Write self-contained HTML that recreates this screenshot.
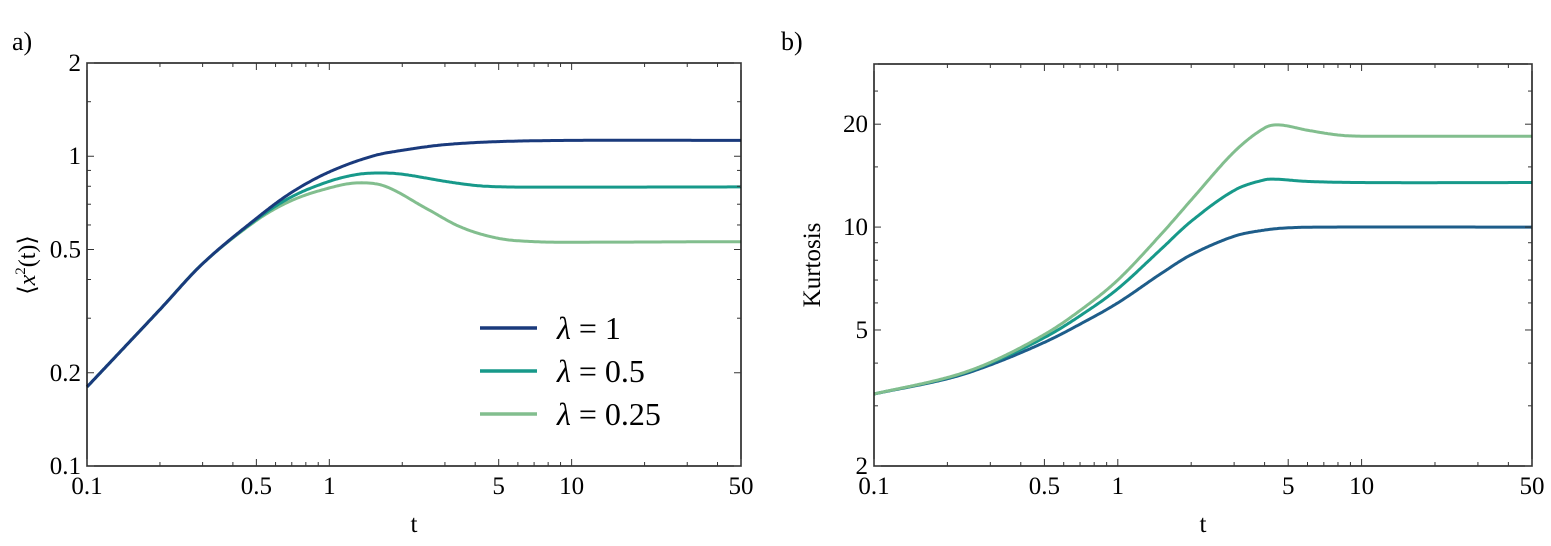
<!DOCTYPE html>
<html><head><meta charset="utf-8">
<style>
html,body{margin:0;padding:0;background:#fff;}
svg{display:block;}
text{font-family:"Liberation Serif","DejaVu Serif",serif;}
</style></head>
<body>
<svg id="s" width="1551" height="546" viewBox="0 0 1551 546" xmlns="http://www.w3.org/2000/svg" font-family="Liberation Serif, serif"></svg>
<script>
const S=document.getElementById('s');let h='';
const FF='font-family="Liberation Serif, DejaVu Serif, serif"';
function L10(v){return Math.log10(v);}
function interp(pts,lt){
  const P=pts.map(p=>[L10(p[0]),L10(p[1])]);
  let i=0;while(i<P.length-2&&lt>P[i+1][0])i++;
  const p0=P[Math.max(i-1,0)],p1=P[i],p2=P[i+1],p3=P[Math.min(i+2,P.length-1)];
  const u=(lt-p1[0])/(p2[0]-p1[0]);
  const m1=(p2[1]-p0[1])/(p2[0]-p0[0]),m2=(p3[1]-p1[1])/(p3[0]-p1[0]);
  const d=p2[0]-p1[0];
  const u2=u*u,u3=u2*u;
  return (2*u3-3*u2+1)*p1[1]+(u3-2*u2+u)*d*m1+(-2*u3+3*u2)*p2[1]+(u3-u2)*d*m2;
}
function panel(o){
  const {x0,x1,y0,y1,ymin,ymax}=o;
  const X=t=>x0+(L10(t)-L10(0.1))/(L10(50)-L10(0.1))*(x1-x0);
  const Y=v=>y1-(L10(v)-L10(ymin))/(L10(ymax)-L10(ymin))*(y1-y0);
  o.series.forEach(s=>{
    let d='';
    for(let k=0;k<=400;k++){const lt=L10(0.1)+k/400*(L10(50)-L10(0.1));
      const lv=interp(s.p,lt);const px=X(Math.pow(10,lt)),py=y1-(lv-L10(ymin))/(L10(ymax)-L10(ymin))*(y1-y0);
      d+=(k?'L':'M')+px.toFixed(1)+' '+py.toFixed(1);}
    h+=`<path d="${d}" fill="none" stroke="${s.c}" stroke-width="3" stroke-linejoin="round"/>`;
  });
  h+=`<rect x="${x0}" y="${y0}" width="${x1-x0}" height="${y1-y0}" fill="none" stroke="#111" stroke-width="1.5"/>`;
  for(let dec=0.1;dec<50;dec*=10){for(let m=1;m<10;m++){const t=dec*m;if(t>50.001)break;const x=X(t);
    const mj=[0.1,0.5,1,5,10,50].some(v=>Math.abs(v-t)<1e-6);const len=mj?7:4;
    h+=`<line x1="${x}" y1="${y1}" x2="${x}" y2="${y1-len}" stroke="#333"/><line x1="${x}" y1="${y0}" x2="${x}" y2="${y0+len}" stroke="#333"/>`;}}
  [['0.1',0.1],['0.5',0.5],['1',1],['5',5],['10',10],['50',50]].forEach(a=>{
    h+=`<text ${FF} x="${X(a[1])}" y="${y1+28}" font-size="25" text-anchor="middle">${a[0]}</text>`;});
  o.yt.forEach(v=>{const y=Y(v);const mj=o.yl.some(a=>Math.abs(a[1]-v)<1e-6);const len=mj?7:4;
    h+=`<line x1="${x0}" y1="${y}" x2="${x0+len}" y2="${y}" stroke="#333"/><line x1="${x1}" y1="${y}" x2="${x1-len}" y2="${y}" stroke="#333"/>`;});
  o.yl.forEach(a=>{h+=`<text ${FF} x="${x0-6}" y="${Y(a[1])+8}" font-size="25" text-anchor="end">${a[0]}</text>`;});
  h+=`<text ${FF} x="${(x0+x1)/2}" y="532" font-size="25" text-anchor="middle">t</text>`;
}
panel({x0:87,x1:741,y0:63,y1:466,ymin:0.1,ymax:2,
 yt:[0.1,0.2,0.3,0.4,0.5,0.6,0.7,0.8,0.9,1,1.5,2],
 yl:[['0.1',0.1],['0.2',0.2],['0.5',0.5],['1',1],['2',2]],
 series:[
 {c:'#82be8e',p:[[0.1,0.18],[0.2,0.32],[0.3,0.45],[0.5,0.62],[0.7,0.72],[1,0.79],[1.3,0.82],[1.7,0.8],[2.5,0.68],[3.5,0.59],[5,0.543],[7,0.53],[10,0.528],[50,0.53]]},
 {c:'#17998a',p:[[0.1,0.18],[0.2,0.32],[0.3,0.45],[0.5,0.625],[0.7,0.74],[1,0.83],[1.3,0.873],[1.6,0.883],[2,0.875],[3,0.83],[4,0.805],[5,0.797],[7,0.795],[50,0.796]]},
 {c:'#1a3a7c',p:[[0.1,0.18],[0.2,0.32],[0.3,0.45],[0.5,0.63],[0.7,0.765],[1,0.89],[1.5,1.0],[2,1.045],[3,1.09],[5,1.115],[10,1.125],[50,1.125]]}
 ]});
panel({x0:874,x1:1532,y0:64,y1:466,ymin:2,ymax:30,
 yt:[2,3,4,5,6,7,8,9,10,15,20,25,30],
 yl:[['2',2],['5',5],['10',10],['20',20]],
 series:[
 {c:'#1e5d8a',p:[[0.1,3.25],[0.2,3.6],[0.3,3.95],[0.5,4.6],[0.7,5.2],[1,6.0],[1.5,7.3],[2,8.3],[3,9.4],[4,9.8],[5,9.95],[7,10],[50,10]]},
 {c:'#17998a',p:[[0.1,3.25],[0.2,3.62],[0.3,4.0],[0.5,4.75],[0.7,5.5],[1,6.6],[1.5,8.6],[2,10.4],[3,12.8],[4,13.75],[4.5,13.8],[6,13.6],[10,13.5],[50,13.5]]},
 {c:'#82be8e',p:[[0.1,3.25],[0.2,3.63],[0.3,4.02],[0.5,4.85],[0.7,5.7],[1,7.0],[1.5,9.5],[2,12.0],[3,16.6],[4,19.5],[4.6,19.9],[6,19.2],[8,18.6],[10,18.45],[50,18.45]]}
 ]});
[['#1a3a7c','1',328],['#17998a','0.5',371],['#82be8e','0.25',414]].forEach(a=>{
  h+=`<line x1="480" y1="${a[2]}" x2="537" y2="${a[2]}" stroke="${a[0]}" stroke-width="3.5"/>`;
  h+=`<text ${FF} x="557" y="${a[2]+11}" font-size="32"><tspan font-style="italic">λ</tspan> = ${a[1]}</text>`;});
h+=`<text ${FF} x="12" y="50" font-size="26">a)</text><text ${FF} x="781" y="50" font-size="26">b)</text>`;
h+=`<text ${FF} transform="translate(35,265) rotate(-90)" font-size="24" text-anchor="middle">⟨<tspan font-style="italic">x</tspan><tspan font-size="15" dy="-10">2</tspan><tspan dy="10">(t)⟩</tspan></text>`;
h+=`<text ${FF} transform="translate(820,265) rotate(-90)" font-size="25" text-anchor="middle">Kurtosis</text>`;
S.innerHTML=h;
</script>
</body></html>
